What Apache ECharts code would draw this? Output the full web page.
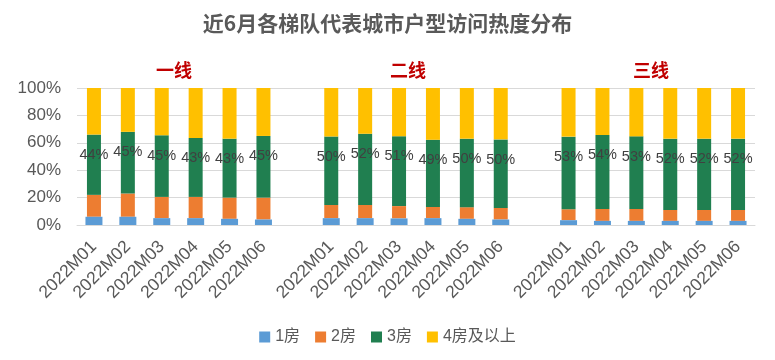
<!DOCTYPE html>
<html>
<head>
<meta charset="utf-8">
<script src="https://cdn.jsdelivr.net/npm/echarts@6/dist/echarts.min.js"></script>
<style>html,body{margin:0;padding:0;background:#fff;}#c{width:775px;height:360px;}</style>
</head>
<body>
<div id="c"></div>
<script>
var categories = ['2022M01','2022M02','2022M03','2022M04','2022M05','2022M06','',
                  '2022M01','2022M02','2022M03','2022M04','2022M05','2022M06',' ',
                  '2022M01','2022M02','2022M03','2022M04','2022M05','2022M06'];
var room1 = [6, 6, 5, 5, 4.5, 4, null, 5, 5, 4.8, 5, 4.5, 4, null, 3.5, 3, 3, 3, 3, 3];
var room2 = [16, 17, 15.5, 15.5, 15.5, 16, null, 9.6, 9.6, 9, 8.2, 8.5, 8.5, null, 8, 8.7, 8.7, 8, 8, 8];
var room3 = [44, 45, 45, 43, 43, 45, null, 50, 52, 51, 49, 50, 50, null, 53, 54, 53, 52, 52, 52];
var room4 = [34, 32, 34.5, 36.5, 37, 35, null, 35.4, 33.4, 35.2, 37.8, 37, 37.5, null, 35.5, 34.3, 35.3, 37, 37, 37];
var yTicks = [0, 20, 40, 60, 80, 100];
var groupNames = ['一线', '二线', '三线'];
var dividerIdx = [6, 13];

var latin = '"Liberation Sans", Arial, "Noto Sans CJK SC", sans-serif';
var cjk = '"Noto Sans CJK SC", sans-serif';
var chart = echarts.init(document.getElementById('c'));
chart.setOption({
  animation: false,
  title: {
    text: '近6月各梯队代表城市户型访问热度分布',
    left: 'center', top: 8,
    textStyle: {fontFamily: cjk, fontSize: 21, fontWeight: 'bold', color: '#595959'}
  },
  legend: {
    data: ['1房', '2房', '3房', '4房及以上'],
    bottom: 10, left: 'center',
    itemWidth: 11, itemHeight: 11, itemGap: 15,
    icon: 'rect',
    textStyle: {fontFamily: latin, fontSize: 16, color: '#595959'}
  },
  graphic: [
    {type: 'text', left: 156, top: 61, style: {text: groupNames[0], fontFamily: cjk, fontSize: 18, fontWeight: 'bold', fill: '#C00000'}},
    {type: 'text', left: 390, top: 61, style: {text: groupNames[1], fontFamily: cjk, fontSize: 18, fontWeight: 'bold', fill: '#C00000'}},
    {type: 'text', left: 633, top: 61, style: {text: groupNames[2], fontFamily: cjk, fontSize: 18, fontWeight: 'bold', fill: '#C00000'}}
  ],
  grid: {left: 77, right: 20, top: 88, bottom: 135},
  xAxis: [{
    type: 'category', data: categories,
    axisLine: {lineStyle: {color: '#d9d9d9', width: 1}},
    axisTick: {show: false},
    axisLabel: {interval: 0, rotate: 45, margin: 19, fontFamily: latin, fontSize: 17.5, color: '#595959'}
  }, {
    type: 'category', data: categories, show: false
  }],
  yAxis: {
    type: 'value', min: 0, max: 100, interval: 20,
    axisLine: {show: false}, axisTick: {show: false},
    splitLine: {lineStyle: {color: '#d9d9d9'}},
    axisLabel: {formatter: function (v) { return yTicks.indexOf(v) >= 0 ? v + '%' : ''; }, margin: 16, fontFamily: latin, fontSize: 17, color: '#595959'}
  },
  series: [
    {name: '_base', type: 'bar', stack: 'a', xAxisIndex: 0, data: room1, barWidth: 14, itemStyle: {color: 'rgba(0,0,0,0)'}, silent: true},
    {name: '2房', type: 'bar', stack: 'a', xAxisIndex: 0, data: room2, itemStyle: {color: '#ED7D31'}},
    {name: '3房', type: 'bar', stack: 'a', xAxisIndex: 0, data: room3, itemStyle: {color: '#207F50'},
      label: {show: true, position: 'insideTop', distance: 13, formatter: function (p) { return p.value + '%'; },
        fontFamily: latin, fontSize: 14.5, color: '#404040'}},
    {name: '4房及以上', type: 'bar', stack: 'a', xAxisIndex: 0, data: room4, itemStyle: {color: '#FFC000'},
      markLine: {
        silent: true, symbol: 'none', label: {show: false},
        lineStyle: {color: '#C00000', type: [7, 4], width: 2},
        data: dividerIdx.map(function (i) { return [{xAxis: i, yAxis: 111}, {xAxis: i, yAxis: 2}]; })
      }},
    {name: '1房', type: 'bar', xAxisIndex: 1, data: room1, barWidth: 17, z: 3, itemStyle: {color: '#5B9BD5'}}
  ]
});
</script>
</body>
</html>
